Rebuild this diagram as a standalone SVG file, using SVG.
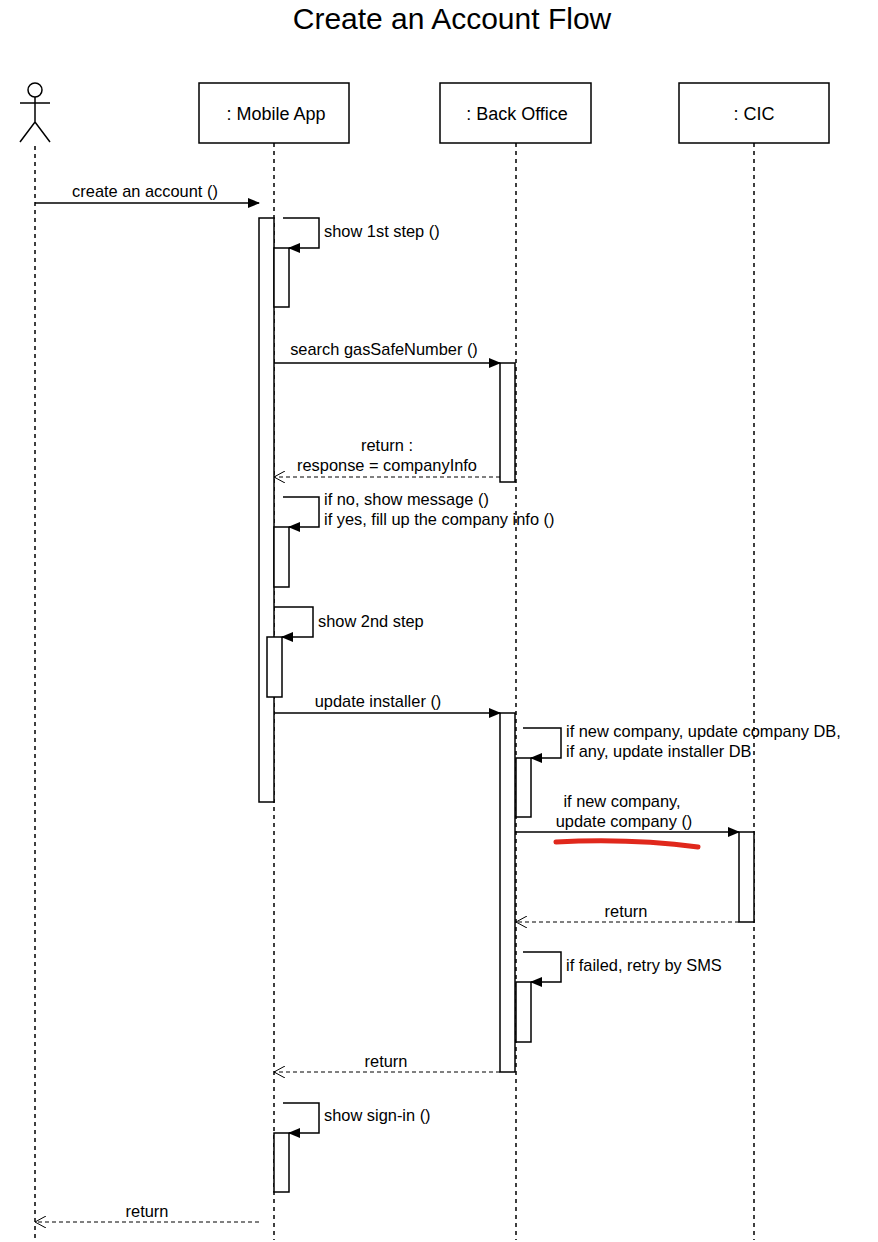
<svg xmlns="http://www.w3.org/2000/svg" width="878" height="1242" viewBox="0 0 878 1242">
<style>
text{font-family:"Liberation Sans",Arial,sans-serif;font-size:16.4px;fill:#000}
.box{fill:#fff;stroke:#000;stroke-width:1.5}
.life{stroke:#000;stroke-width:1.5;stroke-dasharray:4 4;fill:none}
.msg{stroke:#000;stroke-width:1.5;fill:none}
.ret{stroke:#000;stroke-width:1;stroke-dasharray:4 3;fill:none}
.act{fill:#fff;stroke:#000;stroke-width:1.5}
.lbl{font-size:18px}
</style>
<defs>
<marker id="f" markerWidth="12" markerHeight="10" refX="11" refY="5" orient="auto" markerUnits="userSpaceOnUse"><path d="M0,0 L12,5 L0,10 Z" fill="#000"/></marker>
<marker id="o" markerWidth="12" markerHeight="12" refX="11" refY="6" orient="auto" markerUnits="userSpaceOnUse"><path d="M0,0 L11,6 L0,12" fill="none" stroke="#000" stroke-width="1"/></marker>
</defs>
<rect width="878" height="1242" fill="#fff"/>
<text x="452" y="29" text-anchor="middle" style="font-size:30px">Create an Account Flow</text>
<g id="actor">
<circle cx="35" cy="90" r="7" fill="#fff" stroke="#000" stroke-width="1.5"/>
<path class="msg" d="M35,97 V122 M20,103 H50 M20,142 L35,122 L50,142"/>
<path class="life" d="M35,146 V1240"/>
</g>
<g id="mobile">
<rect class="box" x="199" y="83" width="150" height="60"/>
<text class="lbl" x="276" y="120" text-anchor="middle">: Mobile App</text>
<path class="life" d="M274,143 V1240"/>
</g>
<g id="backoffice">
<rect class="box" x="440" y="83" width="151" height="60"/>
<text class="lbl" x="517" y="120" text-anchor="middle">: Back Office</text>
<path class="life" d="M516,143 V1240"/>
</g>
<g id="cic">
<rect class="box" x="679" y="83" width="150" height="60"/>
<text class="lbl" x="754" y="120" text-anchor="middle">: CIC</text>
<path class="life" d="M754,143 V1240"/>
</g>
<g id="activations">
<rect class="act" x="259" y="218" width="15" height="584"/>
<rect class="act" x="274" y="248" width="15" height="59"/>
<rect class="act" x="500" y="363" width="15" height="119"/>
<rect class="act" x="274" y="527" width="15" height="60"/>
<rect class="act" x="267" y="637" width="15" height="60"/>
<rect class="act" x="500" y="713" width="15" height="359"/>
<rect class="act" x="516" y="758" width="15" height="59"/>
<rect class="act" x="739" y="832" width="15" height="90"/>
<rect class="act" x="516" y="982" width="15" height="60"/>
<rect class="act" x="274" y="1133" width="15" height="59"/>
</g>
<g id="connectors">
<path class="msg" d="M35,203 H259" marker-end="url(#f)"/>
<text x="145" y="197" text-anchor="middle">create an account ()</text>
<path class="msg" d="M283,218 H319 V248 H289" marker-end="url(#f)"/>
<text x="324" y="237">show 1st step ()</text>
<path class="msg" d="M274,363 H500" marker-end="url(#f)"/>
<text x="384" y="355" text-anchor="middle">search gasSafeNumber ()</text>
<path class="ret" d="M500,477 H274" marker-end="url(#o)"/>
<text x="387" y="451" text-anchor="middle">return :</text>
<text x="387" y="471" text-anchor="middle">response = companyInfo</text>
<path class="msg" d="M283,497 H319 V527 H289" marker-end="url(#f)"/>
<text x="324" y="505">if no, show message ()</text>
<text x="324" y="525">if yes, fill up the company info ()</text>
<path class="msg" d="M274,607 H313 V637 H282" marker-end="url(#f)"/>
<text x="318" y="627">show 2nd step</text>
<path class="msg" d="M274,713 H500" marker-end="url(#f)"/>
<text x="378" y="707" text-anchor="middle">update installer ()</text>
<path class="msg" d="M523,728 H561 V758 H531" marker-end="url(#f)"/>
<text x="566" y="737">if new company, update company DB,</text>
<text x="566" y="757">if any, update installer DB</text>
<path class="msg" d="M515,832 H739" marker-end="url(#f)"/>
<text x="622" y="807" text-anchor="middle">if new company,</text>
<text x="624" y="827" text-anchor="middle">update company ()</text>
<path class="ret" d="M739,922 H516" marker-end="url(#o)"/>
<text x="626" y="917" text-anchor="middle">return</text>
<path class="msg" d="M523,952 H561 V982 H531" marker-end="url(#f)"/>
<text x="566" y="971">if failed, retry by SMS</text>
<path class="ret" d="M500,1072 H274" marker-end="url(#o)"/>
<text x="386" y="1067" text-anchor="middle">return</text>
<path class="msg" d="M283,1103 H319 V1133 H289" marker-end="url(#f)"/>
<text x="324" y="1121">show sign-in ()</text>
<path class="ret" d="M259,1222 H35" marker-end="url(#o)"/>
<text x="147" y="1217" text-anchor="middle">return</text>
</g>
<path d="M556,842 Q630,838 698,847" stroke="#e0281c" stroke-width="5" stroke-linecap="round" fill="none"/>
</svg>
